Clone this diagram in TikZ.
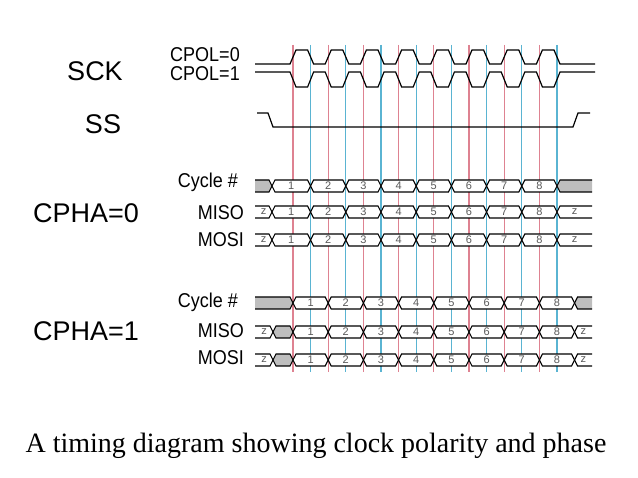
\documentclass[tikz,border=0pt]{standalone}
\usepackage{fontspec}
\setmainfont{Liberation Serif}
\newfontfamily\lsans{Liberation Sans}
\definecolor{redl}{RGB}{222,130,145}
\definecolor{bluel}{RGB}{90,180,210}
\definecolor{grayf}{RGB}{190,190,190}
\newcommand{\busseg}[5]{% xa xb y label fill
  \filldraw[line width=1.1pt,fill=#5] ({#1},{#3}) -- ({#1+3},{#3-6}) -- ({#2-3},{#3-6}) -- ({#2},{#3}) -- ({#2-3},{#3+6}) -- ({#1+3},{#3+6}) -- cycle;
  \node[num] at ({(#1+#2)/2},{#3}) {#4};}
\newcommand{\busstart}[5]{% flat left
  \filldraw[line width=1.1pt,fill=#5] ({#1},{#3-6}) -- ({#2-3},{#3-6}) -- ({#2},{#3}) -- ({#2-3},{#3+6}) -- ({#1},{#3+6});
  \node[num] at ({(#1+#2)/2},{#3}) {#4};}
\newcommand{\busend}[5]{% flat right
  \filldraw[line width=1.1pt,fill=#5] ({#2},{#3-6}) -- ({#1+3},{#3-6}) -- ({#1},{#3}) -- ({#1+3},{#3+6}) -- ({#2},{#3+6});
  \node[num] at ({(#1+#2)/2},{#3}) {#4};}
\begin{document}
\begin{tikzpicture}[x={(1pt,0)},y={(0,-1pt)},
  num/.style={font=\lsans\fontsize{11}{11}\selectfont,text=black!65,inner sep=0},
  lbl/.style={font=\lsans\fontsize{20}{20}\selectfont,inner sep=0},
  big/.style={font=\lsans\fontsize{27}{27}\selectfont,inner sep=0}]
\useasboundingbox (0,0) rectangle (638,478);
\def\p{35.2}
% guide lines
\foreach \i in {0,...,7}{
  \draw[redl,line width=1.1pt] ({293+\p*\i},45) -- ({293+\p*\i},372);
  \draw[bluel,line width=1.1pt] ({293+\p*\i+\p/2},45) -- ({293+\p*\i+\p/2},372);
}
% clocks
\draw[line width=1.2pt] (255,64) \foreach \i in {0,...,7}{ -- ({290+\p*\i},64) -- ({296+\p*\i},50) -- ({307.6+\p*\i},50) -- ({313.6+\p*\i},64)} -- (595,64);
\draw[line width=1.2pt] (255,72) \foreach \i in {0,...,7}{ -- ({290+\p*\i},72) -- ({296+\p*\i},87) -- ({307.6+\p*\i},87) -- ({313.6+\p*\i},72)} -- (595,72);
% SS
\draw[line width=1.2pt] (257,113) -- (268,113) -- (273,127) -- (573,127) -- (578,113) -- (590,113);
% labels
\node[big] (sck) at (95,71) {SCK};
\node[lbl,xscale=0.9] (cp0) at (205,55) {CPOL=0};
\node[lbl,xscale=0.9] (cp1) at (205,74) {CPOL=1};
\node[big] (ss) at (103,124) {SS};
\node[big] (cpha0) at (86,213) {CPHA=0};
\node[big] (cpha1) at (86,331) {CPHA=1};
\node[lbl,anchor=east,xscale=0.9] (c0) at (238,182) {Cycle \#};
\node[lbl,anchor=east,xscale=0.9] (mi0) at (244,213) {MISO};
\node[lbl,anchor=east,xscale=0.9] (mo0) at (244,240) {MOSI};
\node[lbl,anchor=east,xscale=0.9] (c1) at (238,302) {Cycle \#};
\node[lbl,anchor=east,xscale=0.9] (mi1) at (244,331) {MISO};
\node[lbl,anchor=east,xscale=0.9] (mo1) at (244,358) {MOSI};
% CPHA=0 rows
\busstart{255}{272}{186}{}{grayf}
\busstart{255}{272}{212}{z}{white}
\busstart{255}{272}{240}{z}{white}
\foreach \y in {186,212,240}{
  \busseg{272}{310.6}{\y}{1}{white}
  \foreach \i in {2,...,8}{ \busseg{310.6+\p*(\i-2)}{310.6+\p*(\i-1)}{\y}{\i}{white} }
}
\busend{557}{592}{186}{}{grayf}
\busend{557}{592}{212}{z}{white}
\busend{557}{592}{240}{z}{white}
% CPHA=1 rows
\busstart{255}{293}{303}{}{grayf}
\busstart{255}{273}{332}{z}{white}
\busstart{255}{273}{360}{z}{white}
\busseg{273}{293}{332}{}{grayf}
\busseg{273}{293}{360}{}{grayf}
\foreach \y in {303,332,360}{
  \foreach \i in {1,...,8}{ \busseg{293+\p*(\i-1)}{293+\p*\i}{\y}{\i}{white} }
}
\busend{574.6}{592}{303}{}{grayf}
\busend{574.6}{592}{332}{z}{white}
\busend{574.6}{592}{360}{z}{white}
\node[font=\fontsize{28}{28}\selectfont] (cap) at (316,446) {A timing diagram showing clock polarity and phase};
\end{tikzpicture}
\end{document}
